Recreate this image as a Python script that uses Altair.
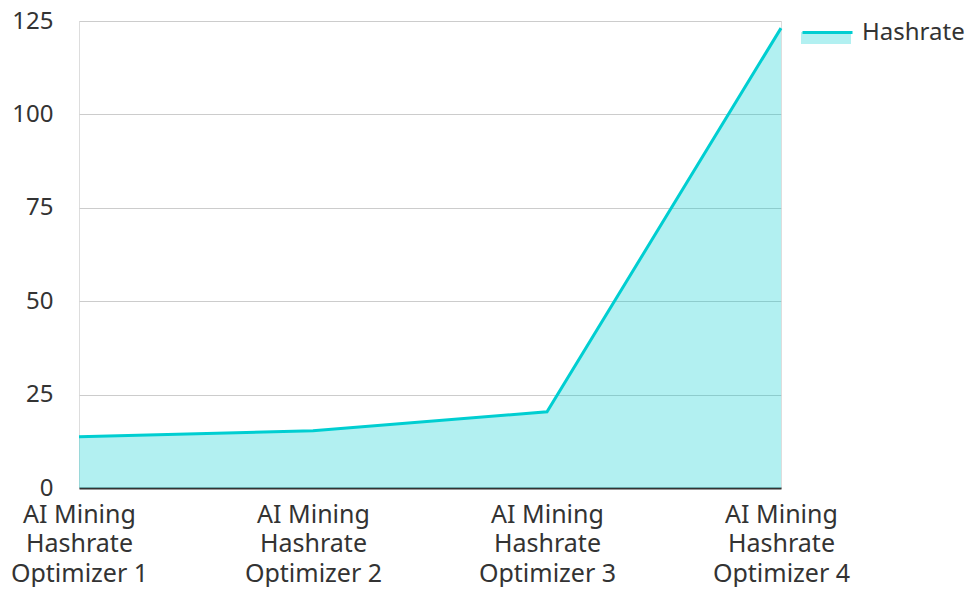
import altair as alt
import pandas as pd

categories = [
    "AI Mining\nHashrate\nOptimizer 1",
    "AI Mining\nHashrate\nOptimizer 2",
    "AI Mining\nHashrate\nOptimizer 3",
    "AI Mining\nHashrate\nOptimizer 4",
]
hashrate = [13.7, 15.3, 20.4, 123.1]
series_name = "Hashrate"
y_ticks = [0, 25, 50, 75, 100, 125]

LINE = "#00CED1"
TEXT = "#333333"
FONT = "Noto Sans"

df = pd.DataFrame({
    "cat": categories,
    "value": hashrate,
    "series": [series_name] * len(categories),
    "line_series": [series_name] * len(categories),
})

x_enc = alt.X(
    "cat:N",
    sort=None,
    scale=alt.Scale(type="point", padding=0),
    axis=alt.Axis(
        title=None,
        labelAngle=0,
        labelAlign="center",
        labelBaseline="top",
        labelExpr="split(datum.label, '\\n')",
        labelLineHeight=29.5,
        labelPadding=14,
        labelFontSize=25,
        labelColor=TEXT,
        labelFont=FONT,
        labelOverlap=False,
        labelBound=False,
        ticks=False,
        grid=False,
        domain=True,
        domainColor="#333333",
        domainWidth=2,
    ),
)
y_enc = alt.Y(
    "value:Q",
    scale=alt.Scale(domain=[0, 125], nice=False),
    axis=alt.Axis(
        title=None,
        values=y_ticks,
        ticks=False,
        domain=False,
        grid=True,
        gridColor="#cccccc",
        gridWidth=1,
        labelPadding=26,
        labelFontSize=24,
        labelColor=TEXT,
        labelFont=FONT,
    ),
)

area = alt.Chart(df).mark_area(fillOpacity=0.3, interpolate="linear").encode(
    x=x_enc,
    y=y_enc,
    fill=alt.Fill(
        "series:N",
        scale=alt.Scale(range=[LINE]),
        legend=alt.Legend(
            title=None,
            orient="none",
            legendX=722,
            legendY=-13,
            padding=0,
            symbolType="M-1,-0.04 L1,-0.04 L1,0.44 L-1,0.44 Z",
            symbolSize=2500,
            symbolOpacity=0.3,
            symbolStrokeWidth=0,
            labelFontSize=24,
            labelFont=FONT,
            labelColor=TEXT,
            labelOffset=11,
        ),
    ),
)

line = alt.Chart(df).mark_line(strokeWidth=3, interpolate="linear").encode(
    x=x_enc,
    y=y_enc,
    stroke=alt.Stroke(
        "line_series:N",
        scale=alt.Scale(range=[LINE]),
        legend=alt.Legend(
            title=None,
            orient="none",
            legendX=722,
            legendY=-15,
            padding=0,
            symbolType="stroke",
            symbolSize=2500,
            symbolStrokeWidth=3,
            labelFontSize=24,
            labelFont=FONT,
            labelColor="transparent",
            labelOffset=11,
        ),
    ),
)

chart = (
    alt.layer(area, line)
    .properties(
        width=702,
        height=467,
        autosize=alt.AutoSizeParams(type="none"),
        padding={"left": 71, "top": 13, "right": 184, "bottom": 99},
    )
    .configure_view(stroke="transparent", strokeWidth=0)
    .configure(font=FONT)
)

chart.save("out.html", embed_options={"renderer": "svg", "actions": False})
